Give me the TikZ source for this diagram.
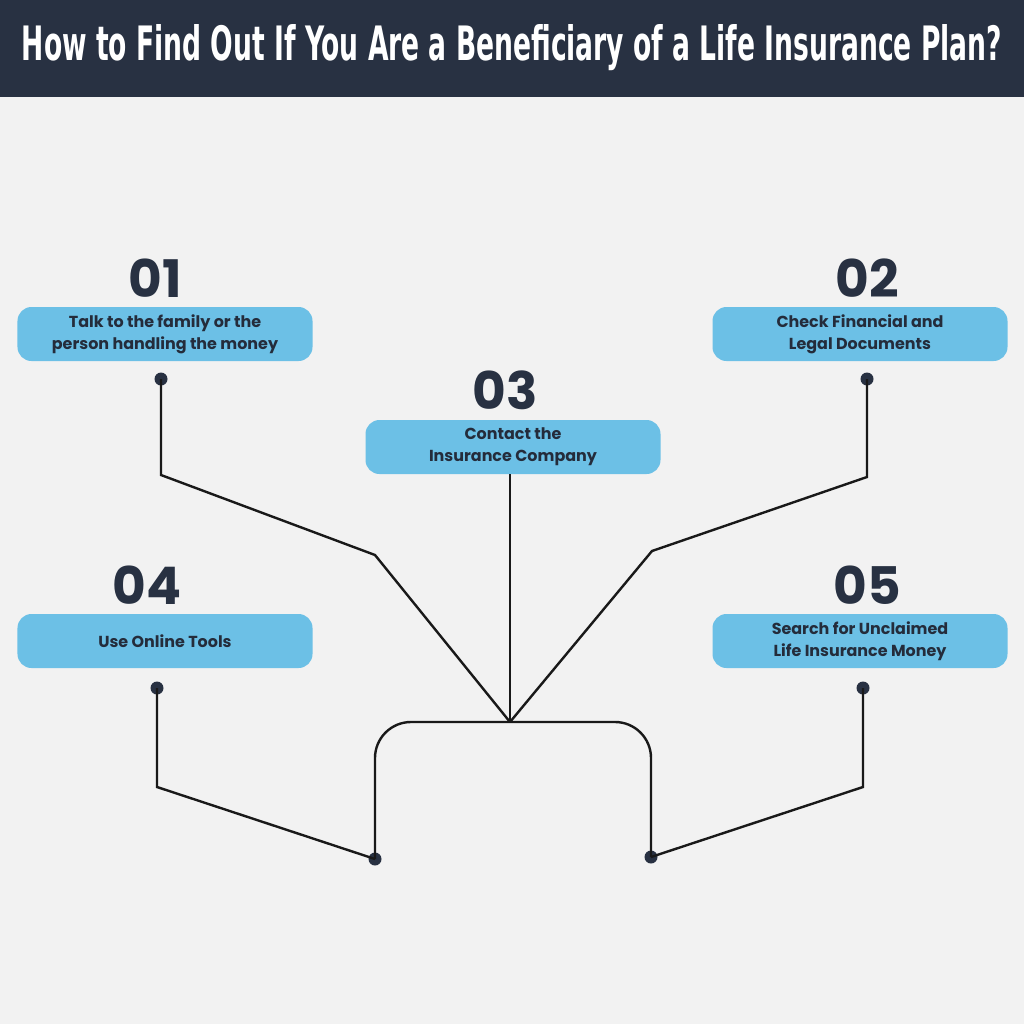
\documentclass[tikz,border=0pt]{standalone}
\usepackage{fontspec}
\setmainfont{Poppins}
\newfontfamily\titlefont{DejaVu Sans Condensed}
\definecolor{navy}{HTML}{283142}
\definecolor{sky}{HTML}{6CC0E6}
\definecolor{paper}{HTML}{F2F2F2}
\tikzset{
  stepbox/.style={rectangle,rounded corners=14bp,fill=sky,minimum width=295bp,minimum height=54bp,
    align=center,font=\fontsize{16}{22}\selectfont\bfseries,text=navy!90!black,inner sep=0pt},
  stepnum/.style={font=\fontsize{52}{52}\selectfont\bfseries,text=navy},
  dot/.style={circle,fill=navy,inner sep=0pt,minimum size=13bp},
  wire/.style={line width=2.4bp,draw=black!90}
}
\begin{document}
\begin{tikzpicture}[x=1bp,y=-1bp]
  \useasboundingbox (0,0) rectangle (1024,1024);
  \fill[paper] (0,0) rectangle (1024,1024);
  \fill[navy] (0,0) rectangle (1024,97);
  \node (title) at (512,48) [text=white,inner sep=0pt] {\resizebox{980bp}{36bp}{\titlefont\bfseries How to Find Out If You Are a Beneficiary of a Life Insurance Plan?}};
  % boxes
  \node (box1) at (165,334) [stepbox] {Talk to the family or the\\person handling the money};
  \node (box2) at (860,334) [stepbox] {Check Financial and\\Legal Documents};
  \node (box3) at (513,447) [stepbox] {Contact the\\Insurance Company};
  \node (box4) at (165,641) [stepbox] {Use Online Tools};
  \node (box5) at (860,641) [stepbox] {Search for Unclaimed\\Life Insurance Money};
  \node (num1) at (155,278) [stepnum] {01};
  \node (num2) at (867,278) [stepnum] {02};
  \node (num3) at (505,390) [stepnum] {03};
  \node (num4) at (147,585) [stepnum] {04};
  \node (num5) at (867,585) [stepnum] {05};
  % connector points
  \path (510,722) coordinate (hub);
  \node (dot1) at (161,379) [dot] {};
  \node (dot2) at (867,379) [dot] {};
  \node (dot4) at (157,688) [dot] {};
  \node (dot5) at (863,688) [dot] {};
  \node (dotl) at (375,859) [dot] {};
  \node (dotr) at (651,857) [dot] {};
  \draw[wire] (dot1.center) -- (161,475) -- (375,555) -- (hub);
  \draw[wire] (dot2.center) -- (867,477) -- (652,551) -- (hub);
  \draw[wire] (box3.south -| hub) -- (hub);
  \draw[wire,rounded corners=36bp] (dotl.center) -- (375,722) -- (651,722) -- (dotr.center);
  \draw[wire] (dot4.center) -- (157,787) -- (dotl.center);
  \draw[wire] (dot5.center) -- (863,787) -- (dotr.center);
\end{tikzpicture}
\end{document}
